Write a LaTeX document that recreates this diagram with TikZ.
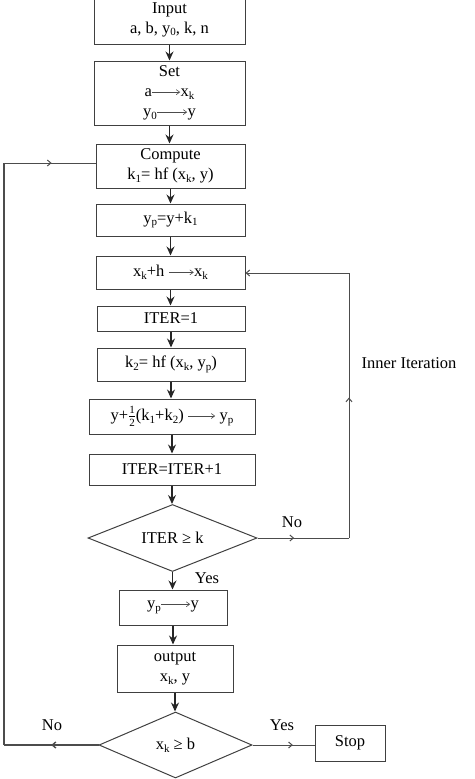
\documentclass[tikz,border=0pt]{standalone}
\usepackage{fontspec}
\usepackage{amsmath}
\setmainfont{Liberation Serif}
\usetikzlibrary{arrows.meta,shapes.geometric,decorations.markings}
\newcommand{\sbs}[1]{\raisebox{-0.35ex}{\fontsize{11}{11}\selectfont #1}}
\newcommand{\tarr}[1]{\tikz[baseline=-0.6ex]\draw[line width=0.6pt,black!70,-{Straight Barb[length=3.5pt,width=5pt]}] (0pt,0pt) -- (#1,0pt);}
\begin{document}
\begin{tikzpicture}[x=1pt,y=-1pt,
  font=\fontsize{16.5}{20}\selectfont,
  box/.style={draw=black!75,line width=1pt,inner sep=0pt,align=center},
  dec/.style={draw=black!75,line width=1pt,diamond,inner sep=0pt,aspect=2.5},
  main/.style={draw=black!85,line width=1.2pt,-{Stealth[length=9pt,width=8pt,inset=3pt]}},
  loopline/.style={draw=black!70,line width=1pt},
  midarrow/.style={postaction={decorate},decoration={markings,mark=at position #1 with {\arrow{Straight Barb[length=3.5pt,width=6pt]}}}},
  midarrow/.default=0.5,
  lab/.style={inner sep=0pt}]
\useasboundingbox (0,0) rectangle (474,779);
% nodes
\node[box,minimum width=151pt,minimum height=49pt] (input) at (169.5,19.5) {Input\\a, b, y\sbs{0}, k, n};
\node[box,minimum width=151pt,minimum height=64pt] (set) at (169.5,93) {Set\\a\tarr{28pt}x\sbs{k}\\y\sbs{0}\tarr{30pt}y};
\node[box,minimum width=149pt,minimum height=44pt] (compute) at (170.5,166) {Compute\\k\sbs{1}= hf (x\sbs{k}, y)};
\node[box,minimum width=149pt,minimum height=32pt] (yp) at (170.5,220) {y\sbs{p}=y+k\sbs{1}};
\node[box,minimum width=149pt,minimum height=33pt] (xkh) at (170.5,272.5) {x\sbs{k}+h \tarr{25pt}x\sbs{k}};
\node[box,minimum width=148pt,minimum height=25pt] (iter1) at (171,318.5) {ITER=1};
\node[box,minimum width=148pt,minimum height=33pt] (k2) at (171,364.5) {k\sbs{2}= hf (x\sbs{k}, y\sbs{p})};
\node[box,minimum width=166pt,minimum height=35pt] (half) at (172,416.5) {y+$\genfrac{}{}{0.4pt}{1}{\text{\fontsize{11}{11}\selectfont 1}}{\text{\fontsize{11}{11}\selectfont 2}}$(k\sbs{1}+k\sbs{2}) \tarr{27pt} y\sbs{p}};
\node[box,minimum width=166pt,minimum height=31pt] (iterinc) at (172,469.5) {ITER=ITER+1};
\node[dec,minimum width=169pt,minimum height=67pt] (d1) at (172.5,538) {ITER ≥ k};
\node[box,minimum width=108pt,minimum height=35pt] (ypy) at (173,607.5) {y\sbs{p}\tarr{29pt}y};
\node[box,minimum width=116pt,minimum height=47pt] (output) at (175,668.5) {output\\x\sbs{k}, y};
\node[dec,minimum width=153pt,minimum height=66pt] (d2) at (175.5,745) {x\sbs{k} ≥ b};
\node[box,minimum width=70pt,minimum height=36pt] (stop) at (350,743) {Stop};
% labels
\node[lab] (no1) at (292,522) {No};
\node[lab] (yes1) at (207,578) {Yes};
\node[lab] (no2) at (52,725) {No};
\node[lab] (yes2) at (282,725) {Yes};
\node[lab] (inner) at (409,363) {Inner Iteration};
% main flow
\draw[main] (input.south) -- (input.south |- set.north);
\draw[main] (set.south) -- (set.south |- compute.north);
\draw[main] (compute.south) -- (compute.south |- yp.north);
\draw[main] (yp.south) -- (yp.south |- xkh.north);
\draw[main] (xkh.south) -- (xkh.south |- iter1.north);
\draw[main] (iter1.south) -- (iter1.south |- k2.north);
\draw[main] (k2.south) -- (k2.south |- half.north);
\draw[main] (half.south) -- (half.south |- iterinc.north);
\draw[main] (iterinc.south) -- (iterinc.south |- d1.north);
\draw[main] (d1.south) -- (d1.south |- ypy.north);
\draw[main] (ypy.south) -- (ypy.south |- output.north);
\draw[main] (output.south) -- (output.south |- d2.north);
% inner loop
\coordinate (r1) at (349,538);
\coordinate (r2) at (349,273);
\draw[loopline,midarrow=0.4] (d1.east) -- (r1);
\draw[loopline,midarrow=0.53] (r1) -- (r2);
\draw[loopline,-{Straight Barb[length=3.5pt,width=6pt]}] (r2) -- (r2 -| xkh.east);
% outer loop
\coordinate (l1) at (4,745);
\coordinate (l2) at (4,163);
\draw[loopline,line width=1.4pt,midarrow=0.5] (d2.west) -- (l1);
\draw[loopline,line width=1.4pt] (l1) -- (l2);
\draw[loopline,midarrow=0.52] (l2) -- (l2 -| compute.west);
% stop
\draw[loopline,midarrow=0.65] (d2.east) -- (d2.east -| stop.west);
\end{tikzpicture}
\end{document}
